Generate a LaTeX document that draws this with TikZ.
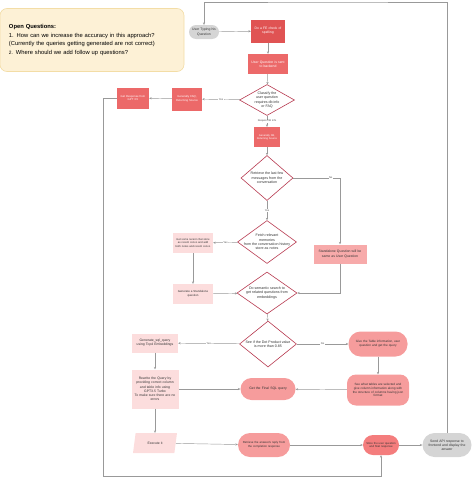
\documentclass[tikz,border=0pt]{standalone}
\usepackage{fontspec}
\setmainfont{Liberation Sans}
\usetikzlibrary{shapes.geometric,arrows.meta}

\definecolor{noteyel}{HTML}{FDF1D6}
\definecolor{noteedge}{HTML}{F3DDA6}
\definecolor{darkred}{HTML}{E05353}
\definecolor{midred}{HTML}{EC6969}
\definecolor{storered}{HTML}{F47D7D}
\definecolor{salmon}{HTML}{F69C9C}
\definecolor{rosy}{HTML}{F7AAAA}
\definecolor{lightpink}{HTML}{FCDDDD}
\definecolor{diaedge}{HTML}{B73A50}
\definecolor{greybox}{HTML}{D5D5D5}
\definecolor{linegrey}{HTML}{999999}

\newcommand\boxfont{\fontsize{3.4}{4.2}\selectfont}
\newcommand\diafont{\fontsize{3.6}{4.4}\selectfont}

\tikzset{
  conn/.style={draw=linegrey, line width=0.45pt, -{Stealth[length=2.4pt,width=2.2pt]}},
  lbl/.style={font=\fontsize{2.6}{3}\selectfont, text=black!70, fill=white, inner sep=0.5pt},
  box/.style={rectangle, align=center, inner sep=0.5pt, font=\boxfont, text=black!80},
  pill/.style={box, rounded corners=#1},
  slant/.style={trapezium, trapezium left angle=73, trapezium right angle=107,
    trapezium stretches=true, align=center, inner sep=0.5pt, font=\boxfont, text=black!80},
  dia/.style={diamond, draw=diaedge, line width=0.6pt, fill=white, inner sep=0pt},
  diatext/.style={align=center, font=\diafont, text=black!80},
  note/.style={rectangle, rounded corners=7pt, fill=noteyel, draw=noteedge, line width=0.6pt,
    inner sep=0pt, align=left, font=\fontsize{5.8}{8.7}\selectfont}
}

\begin{document}
\begin{tikzpicture}[x=1pt,y=-1pt]
\useasboundingbox (0,0) rectangle (474,479);

% open questions
\node[note, minimum width=184pt, minimum height=63pt, text width=166pt] (notes) at (92,40)
  {\textbf{Open Questions:}\\1. How can we increase the accuracy in this approach?\\(Currently the queries getting generated are not correct)\\{\fontsize{4.8}{8.7}\selectfont 2.} Where should we add follow up questions?};

% top of the flow
\node[pill=7pt, fill=greybox, minimum width=30pt, minimum height=14pt, text width=28pt] (user) at (204,32) {User Typing his\\Question};
\node[box, fill=darkred, text=white, minimum width=34pt, minimum height=23pt, text width=32pt] (spell) at (268,31) {Do a FE check of\\spelling};
\node[box, fill=midred, text=white, minimum width=40pt, minimum height=20pt, text width=38pt] (backend) at (268,64) {User Question is sent\\to backend};
\node[dia, minimum width=55pt, minimum height=31pt, label={[diatext]center:Classify the\\user question\\requires db info\\or FAQ}] (classify) at (267,100) {};
\node[box, fill=midred, text=white, minimum width=30pt, minimum height=23pt, text width=29pt, font=\fontsize{2.8}{3.5}\selectfont] (faq) at (187,99) {Generally FAQ,\\Returning Source};
\node[box, fill=midred, text=white, minimum width=32pt, minimum height=21pt, text width=31pt, font=\fontsize{2.8}{3.5}\selectfont] (gpt) at (133,98) {Get Response from\\GPT 3.5};
\node[box, fill=midred, text=white, minimum width=26pt, minimum height=20pt, text width=25pt, font=\fontsize{2.6}{3.3}\selectfont] (dbinfo) at (267,137) {Generally DB,\\Returning Source};

% memory part
\node[dia, minimum width=52pt, minimum height=45pt, label={[diatext]center:Retrieve the last few\\messages from the\\conversation}] (recent) at (267,178) {};
\node[dia, minimum width=59pt, minimum height=43pt, label={[diatext]center:Fetch relevant\\memories\\from the conversation history\\store as notes}] (memory) at (267,242) {};
\node[box, fill=lightpink, minimum width=40pt, minimum height=20pt, text width=39pt, font=\fontsize{2.7}{3.3}\selectfont] (recentchat) at (193,243) {Get some recent chat store as recent convo and add both notes and recent convo};
\node[box, fill=lightpink, minimum width=40pt, minimum height=20pt, text width=39pt, font=\fontsize{2.9}{3.6}\selectfont] (standq) at (193,294) {Generate a Standalone\\question};
\node[box, fill=rosy, minimum width=53pt, minimum height=19pt, text width=52pt] (same) at (340,254) {Standalone Question will be\\same as User Question};
\node[dia, minimum width=60pt, minimum height=42pt, label={[diatext]center:Do semantic search to\\get related questions from\\embeddings}] (semantic) at (267,293) {};

% query part
\node[dia, minimum width=57pt, minimum height=46pt, label={[diatext]center:See if the Dot Product value\\is more than 0.85}] (dotprod) at (268,344) {};
\node[box, fill=lightpink, minimum width=46pt, minimum height=19pt, text width=45pt] (gensql) at (155,343) {Generate\_sql\_query\\using Top4 Embeddings};
\node[pill=12pt, fill=salmon, minimum width=59pt, minimum height=25pt, text width=56pt, font=\fontsize{3.1}{3.9}\selectfont] (tableinfo) at (378,344) {Give the Table information, user\\question and get the query};
\node[pill=9pt, fill=salmon, minimum width=62pt, minimum height=31pt, text width=60pt, font=\fontsize{3.1}{3.9}\selectfont] (tables) at (378,390) {See what tables are selected and\\give column information along with\\the structure of columns having json\\format};
\node[pill=11pt, fill=salmon, minimum width=55pt, minimum height=22pt, text width=50pt] (finalsql) at (268,389) {Get the Final SQL query};
\node[box, fill=lightpink, minimum width=47pt, minimum height=39pt, text width=46pt] (rewrite) at (155,389) {Rewrite the Query by\\providing correct column\\and table info using\\GPT3.5 Turbo\\To make sure there are no\\errors};
\node[slant, fill=lightpink, minimum width=44pt, minimum height=20pt] (execute) at (155,443) {Execute it};
\node[pill=12pt, fill=salmon, minimum width=52pt, minimum height=24pt, text width=48pt, font=\fontsize{2.9}{3.6}\selectfont] (answer) at (264,445) {Retrieve the answer/s reply from\\the completion response};
\node[pill=10pt, fill=storered, minimum width=36pt, minimum height=20pt, text width=35pt, font=\fontsize{2.8}{3.4}\selectfont] (store) at (381,445) {Store the user question\\and final response};
\node[pill=12pt, fill=greybox, minimum width=49pt, minimum height=24pt, text width=47pt] (send) at (447,445) {Send API response to\\frontend and display the\\answer};

\coordinate (looptop) at (330,2);
\coordinate (leftrail) at (103,476);

% connectors
\draw[conn] (user) -- (spell);
\draw[conn] (spell) -- (backend);
\draw[conn] (backend) -- (classify);
\draw[conn] (classify) -- node[lbl]{Yes} (faq);
\draw[conn] (faq) -- (gpt);
\draw[conn] (classify) -- node[lbl]{Require DB Info} (dbinfo);
\draw[conn] (dbinfo) -- (recent);
\draw[conn] (recent.east) -| node[lbl, pos=0.4]{No} (same.north);
\draw[conn] (recent) -- node[lbl]{Yes} (memory);
\draw[conn] (memory) -- node[lbl]{Yes} (recentchat);
\draw[conn] (recentchat) -- (standq);
\draw[conn] (standq) -- (semantic);
\draw[conn] (same.south) |- (semantic.east);
\draw[conn] (semantic) -- (dotprod);
\draw[conn] (dotprod) -- node[lbl]{Yes} (gensql);
\draw[conn] (dotprod) -- node[lbl]{No} (tableinfo);
\draw[conn] (tableinfo) -- (tables);
\draw[conn] (tables) -- (finalsql);
\draw[conn] (gensql) -- (rewrite);
\draw[conn] (rewrite) -- (finalsql);
\draw[conn] (rewrite) -- (execute);
\draw[conn] (execute) -- (answer);
\draw[conn] (answer) -- (store);
\draw[conn] (store) -- (send);
\draw[conn] (send.north) |- (looptop) -| (user.north);
\draw[conn] (gpt.west) -| (leftrail) -| (store.south);
\end{tikzpicture}
\end{document}
